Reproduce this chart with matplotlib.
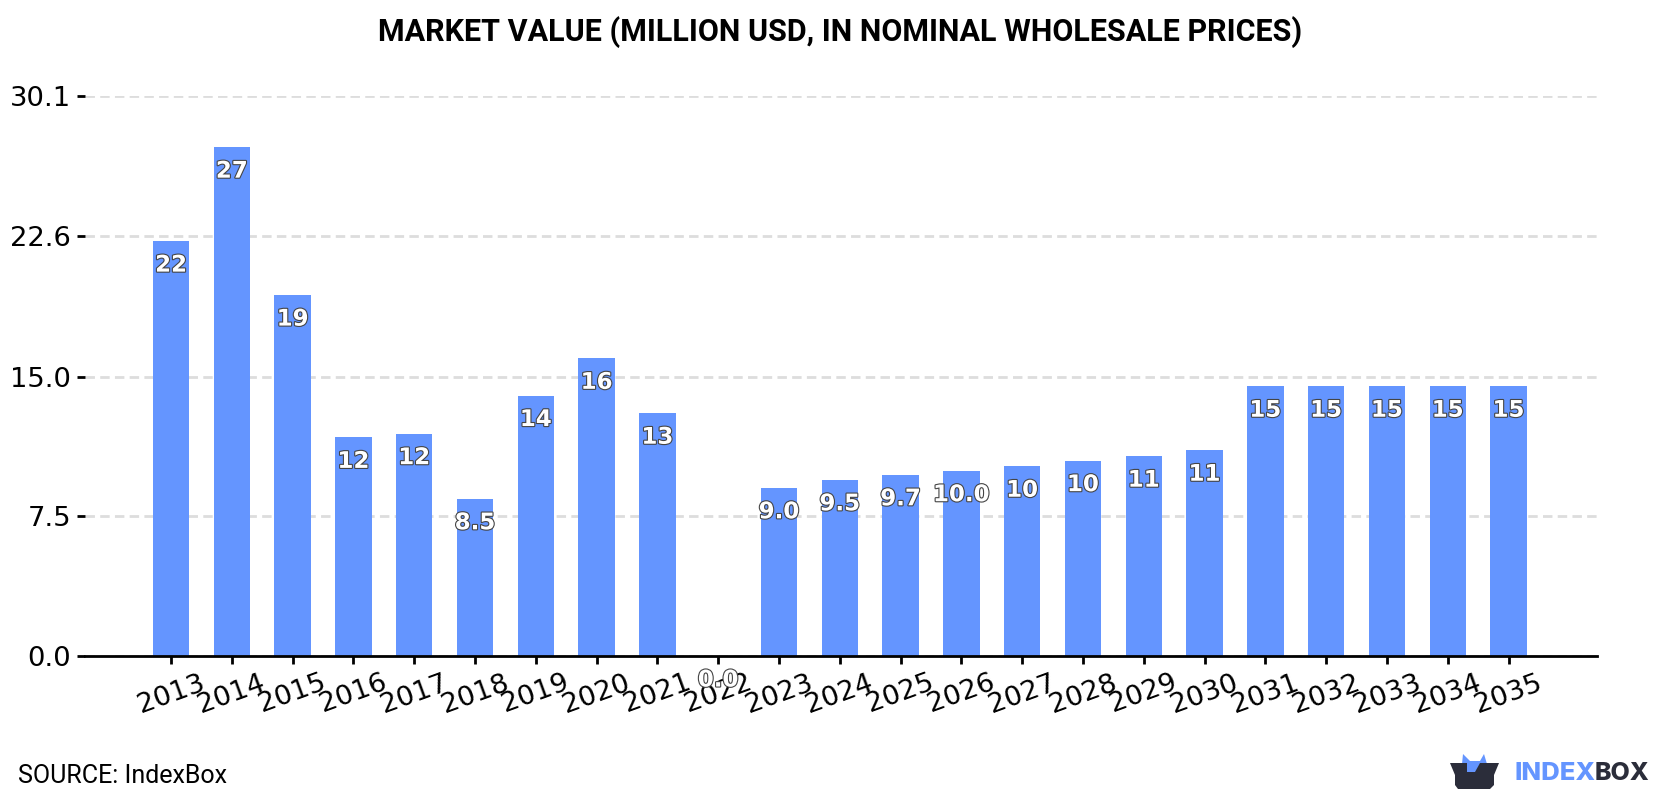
import matplotlib
matplotlib.use("Agg")
import matplotlib.pyplot as plt
import matplotlib.patheffects as pe
from matplotlib.patches import Polygon
from matplotlib.transforms import offset_copy, Affine2D

years = [2013, 2014, 2015, 2016, 2017, 2018, 2019, 2020, 2021, 2022, 2023, 2024,
         2025, 2026, 2027, 2028, 2029, 2030, 2031, 2032, 2033, 2034, 2035]
values = [22.3, 27.35, 19.4, 11.75, 11.95, 8.45, 14.0, 16.0, 13.05, 0.0, 9.04, 9.47,
          9.74, 9.96, 10.2, 10.5, 10.74, 11.06, 14.5, 14.5, 14.5, 14.5, 14.5]
bar_labels = ["22", "27", "19", "12", "12", "8.5", "14", "16", "13", "0.0", "9.0", "9.5",
              "9.7", "10.0", "10", "10", "11", "11", "15", "15", "15", "15", "15"]
y_ticks = [0.0, 7.5, 15.0, 22.6, 30.1]

BAR_BLUE = "#6495FF"
LOGO_DARK = "#2B2D3A"
W, H = 1680, 800

fig = plt.figure(figsize=(W / 100, H / 100), dpi=100, facecolor="white")
ax = fig.add_axes([85 / W, 1 - 656 / H, (1597 - 85) / W, (656 - 96) / H])

ax.bar(years, values, width=0.6, color=BAR_BLUE, zorder=3)
ax.set_xlim(2013 - 1.415, 2035 + 1.455)
ax.set_ylim(0, 30.1)

ax.set_yticks(y_ticks)
ax.set_yticklabels([f"{v:.1f}" for v in y_ticks], fontsize=19.7, color="black",
                   family="DejaVu Sans")
ax.set_xticks(years)
ax.set_xticklabels([str(y) for y in years], fontsize=19.7, rotation=20, ha="center",
                   family="DejaVu Sans")
ax.tick_params(axis="y", length=6, width=2, pad=4)
ax.tick_params(axis="x", length=6, width=2, pad=4)

ax.yaxis.grid(True, color="#dddddd", linewidth=2, linestyle=(0, (3.4, 1.9)), zorder=1)
ax.set_axisbelow(True)
for side in ("top", "left", "right"):
    ax.spines[side].set_visible(False)
ax.spines["bottom"].set_linewidth(2)
ax.spines["bottom"].set_zorder(5)

# Value labels sit a fixed distance below each bar top
label_trans = offset_copy(ax.transData, fig=fig, y=-24, units="dots")
outline = [pe.withStroke(linewidth=1.6, foreground="#444444")]
for year, value, text in zip(years, values, bar_labels):
    ax.text(year, value, text, transform=label_trans, ha="center", va="center",
            fontsize=16.5, fontweight="bold", family="DejaVu Sans", color="white",
            path_effects=outline, zorder=6, clip_on=False)

# Header and footer, positioned in pixels from the top-left corner
px = Affine2D().scale(1, -1).translate(0, H)
fig.text(840 / W, 1 - 32 / H, "MARKET VALUE (MILLION USD, IN NOMINAL WHOLESALE PRICES)",
         ha="center", va="center", fontsize=22, fontweight="bold", family="Roboto", color="black")
fig.text(18 / W, 1 - 776 / H, "SOURCE: IndexBox", ha="left", va="center",
         fontsize=18, family="Roboto", color="black")

# Box-shaped brand mark
crown = [(1462, 764), (1463, 754), (1470, 761), (1480, 761), (1484, 754), (1487, 764),
         (1480, 772), (1462, 772)]
body = [(1450, 763), (1467, 763), (1467, 772), (1475, 772), (1480, 763), (1499, 763),
        (1494, 775), (1494, 785), (1490, 789), (1458, 789), (1455, 785), (1455, 775)]
fig.add_artist(Polygon(crown, closed=True, facecolor=BAR_BLUE, edgecolor="none", transform=px))
fig.add_artist(Polygon(body, closed=True, facecolor=LOGO_DARK, edgecolor="none", transform=px))
fig.text(1515 / W, 1 - 774 / H, "INDEX", ha="left", va="center", fontsize=18.5,
         fontweight="heavy", family="Inter", color=BAR_BLUE)
fig.text(1595 / W, 1 - 774 / H, "BOX", ha="left", va="center", fontsize=18,
         fontweight="heavy", family="Inter", color=LOGO_DARK)

fig.savefig("out.png", dpi=100, facecolor="white")
